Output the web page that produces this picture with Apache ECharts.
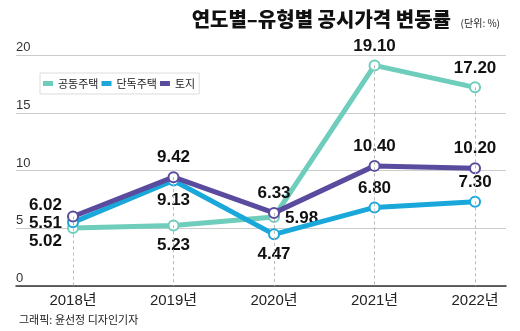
<!DOCTYPE html>
<html>
<head>
<meta charset="utf-8">
<script src="https://cdn.jsdelivr.net/npm/echarts@6/dist/echarts.min.js"></script>
<style>
  html, body { margin: 0; padding: 0; background: #fff; }
  #chart { width: 520px; height: 331px; }
</style>
</head>
<body>
<div id="chart"></div>
<script>
// 연도별-유형별 공시가격 변동률 (단위: %)
const years = [2018, 2019, 2020, 2021, 2022];
const yearLabels = ['2018년', '2019년', '2020년', '2021년', '2022년'];
const seriesNames = ['공동주택', '단독주택', '토지'];
const apartment = [5.02, 5.23, 5.98, 19.10, 17.20];
const house = [5.51, 9.13, 4.47, 6.80, 7.30];
const land = [6.02, 9.42, 6.33, 10.40, 10.20];
const yTicks = [0, 5, 10, 15, 20];

const colors = ['#6fcdbb', '#1aa8da', '#5a4b9f'];
const values = [apartment, house, land];

// label placement per point: [position, offsetY]
const labelPlacement = [
  [['left', 13], ['bottom', 0], ['right', 1], ['top', 0], ['top', 0]],
  [['left', 1], ['bottom', 0], ['bottom', 0], ['top', 0], ['top', 0]],
  [['left', -11], ['top', 0], ['top', 0], ['top', 0], ['top', 0]]
];

const labelFont = {
  fontFamily: '"Liberation Sans Narrow", "Liberation Sans", Arial, sans-serif',
  fontWeight: 'bold',
  fontSize: 17,
  color: '#111'
};

const series = values.map((vals, si) => ({
  name: seriesNames[si],
  type: 'line',
  data: vals.map((v, i) => ({
    value: [years[i], v],
    label: {
      position: labelPlacement[si][i][0],
      offset: [0, labelPlacement[si][i][1]]
    }
  })),
  z: 2 + si,
  symbol: 'circle',
  symbolSize: 10,
  showSymbol: true,
  lineStyle: { color: colors[si], width: 5 },
  itemStyle: { color: '#fff', borderColor: colors[si], borderWidth: 2 },
  label: Object.assign({
    show: true,
    distance: 5,
    formatter: p => p.value[1].toFixed(2)
  }, labelFont),
  emphasis: { disabled: true },
  animation: false
}));

// dashed guide from the highest point of each year down to the axis
series[0].markLine = {
  silent: true,
  symbol: 'none',
  label: { show: false },
  lineStyle: { color: '#b8b8b8', type: [3, 3], width: 1 },
  data: years.map((y, i) => {
    const top = Math.max(apartment[i], house[i], land[i]);
    return [{ coord: [y, top] }, { coord: [y, 0] }];
  })
};

const chart = echarts.init(document.getElementById('chart'));
chart.setOption({
  animation: false,
  backgroundColor: '#fff',
  title: [
    {
      text: '연도별–유형별 공시가격 변동률',
      right: 64,
      top: 4,
      textStyle: {
        fontFamily: '"Noto Sans CJK KR", sans-serif',
        fontWeight: 900,
        fontSize: 20,
        color: '#111'
      }
    },
    {
      text: '(단위: %)',
      right: 15,
      top: 13,
      textStyle: {
        fontFamily: '"Noto Sans CJK KR", sans-serif',
        fontWeight: 'normal',
        fontSize: 10,
        color: '#222'
      }
    },
    {
      text: '그래픽: 윤선정 디자인기자',
      left: 14,
      top: 309,
      textStyle: {
        fontFamily: '"Noto Sans CJK KR", sans-serif',
        fontWeight: 'normal',
        fontSize: 11,
        color: '#222'
      }
    }
  ],
  legend: {
    data: seriesNames.map((n, i) => ({
      name: n,
      itemStyle: { color: colors[i], borderWidth: 0 }
    })),
    left: 40,
    top: 73,
    padding: [5, 4, 5, 3],
    borderColor: '#dddddd',
    borderWidth: 1,
    itemWidth: 10,
    itemHeight: 5,
    itemGap: 3,
    icon: 'rect',
    selectedMode: false,
    textStyle: {
      fontFamily: '"Noto Sans CJK KR", sans-serif',
      fontSize: 11,
      color: '#222'
    }
  },
  grid: { left: 16, right: 14, top: 55, bottom: 45, containLabel: false },
  xAxis: {
    type: 'value',
    min: 2017.433,
    max: 2022.308,
    axisLine: { show: true, onZero: false, lineStyle: { color: '#333', width: 1.5 } },
    axisTick: { show: false },
    splitLine: { show: false },
    axisLabel: {
      customValues: years,
      formatter: v => yearLabels[years.indexOf(Math.round(v))],
      margin: 7,
      fontFamily: '"Liberation Sans", Arial, "Noto Sans CJK KR", sans-serif',
      fontSize: 15,
      color: '#222'
    }
  },
  yAxis: {
    type: 'value',
    min: yTicks[0],
    max: yTicks[yTicks.length - 1],
    interval: 5,
    axisLine: { show: false },
    axisTick: { show: false },
    splitLine: { lineStyle: { color: '#cccccc', width: 1 } },
    axisLabel: {
      inside: true,
      margin: 0,
      align: 'left',
      verticalAlign: 'bottom',
      padding: [0, 0, 1, 0],
      fontFamily: '"Liberation Sans", Arial, sans-serif',
      fontSize: 13,
      color: '#333'
    }
  },
  series: series
});
</script>
</body>
</html>
